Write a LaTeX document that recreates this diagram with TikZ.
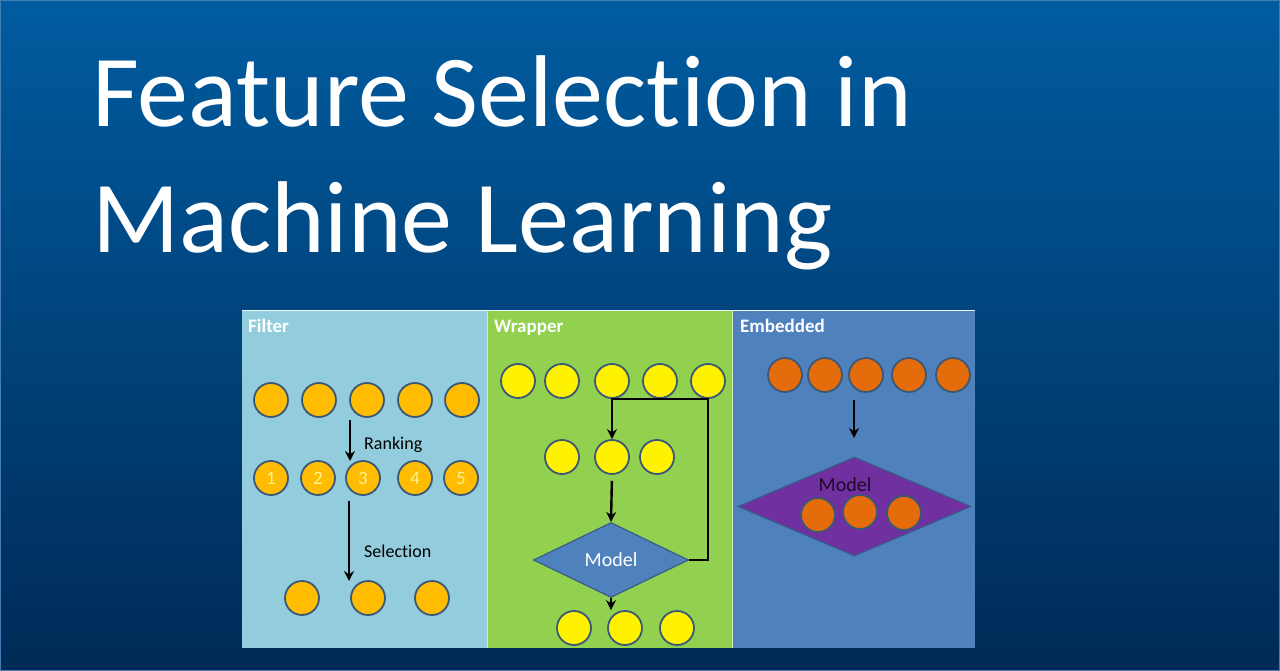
\documentclass[tikz,border=0pt]{standalone}
\usepackage{fontspec}
\setmainfont{Carlito}[Ligatures=NoCommon]
\usetikzlibrary{arrows.meta,shapes.geometric}
\definecolor{bgtop}{RGB}{0,92,160}
\definecolor{bgbot}{RGB}{0,42,86}
\definecolor{frame}{RGB}{70,125,180}
\definecolor{filterbg}{RGB}{147,205,221}
\definecolor{wrapbg}{RGB}{146,208,80}
\definecolor{embbg}{RGB}{79,129,189}
\definecolor{dotline}{RGB}{60,88,118}
\definecolor{fdotfill}{RGB}{255,188,0}
\definecolor{edotfill}{RGB}{228,108,10}
\definecolor{numtext}{RGB}{255,242,150}
\definecolor{modelblue}{RGB}{79,129,189}
\definecolor{modelline}{RGB}{56,93,138}
\definecolor{modelpurple}{RGB}{112,48,160}
\definecolor{darktext}{RGB}{30,10,40}
\begin{document}
\begin{tikzpicture}[x=1pt,y=1pt]
\tikzstyle{every node}+=[inner sep=0pt]
\tikzstyle{title}=[anchor=base west,text=white,font=\fontsize{102}{102}\selectfont]
\tikzstyle{head}=[anchor=base west,text=white,font=\fontsize{19}{19}\selectfont\bfseries]
\tikzstyle{lbl}=[anchor=base west,font=\fontsize{18}{18}\selectfont]
\tikzstyle{dot}=[circle,draw=dotline,line width=1.8pt,minimum size=34pt,font=\fontsize{19}{19}\selectfont]
\tikzstyle{fdot}=[dot,fill=fdotfill,text=numtext]
\tikzstyle{wdot}=[dot,fill=yellow]
\tikzstyle{edot}=[dot,fill=edotfill]
\tikzstyle{model}=[diamond,draw=modelline,line width=1.2pt,font=\fontsize{20}{20}\selectfont]
\tikzstyle{arr}=[black,line width=2.4pt,-{Stealth[length=10pt,width=10pt]}]
\useasboundingbox (0,0) rectangle (1280,-671);
\shade [top color=bgtop,bottom color=bgbot] (0,0) rectangle (1280,-671);
\draw [frame,line width=2pt] (0,0) rectangle (1280,-671);
\node [title] (t1) at (92,-127) {Feature Selection in};
\node [title] (t2) at (92,-252) {Machine Learning};
\fill [filterbg] (242,-310) rectangle (487,-648);
\fill [wrapbg] (487,-310) rectangle (732,-648);
\fill [embbg] (732,-310) rectangle (975,-648);
\draw [white!85!filterbg,line width=1pt] (242,-310) -- (975,-310);
\draw [white!60!wrapbg,line width=1pt] (487,-310) -- (487,-648);
\draw [white!60!wrapbg,line width=1pt] (732,-310) -- (732,-648);
\node [head] (hfilter) at (248,-332) {Filter};
\node [head] (hwrap) at (494,-332) {Wrapper};
\node [head] (hemb) at (740,-332) {Embedded};
\node [fdot] (f1) at (271,-400) {};
\node [fdot] (f2) at (319,-400) {};
\node [fdot] (f3) at (367,-400) {};
\node [fdot] (f4) at (415,-400) {};
\node [fdot] (f5) at (462,-400) {};
\node [fdot] (r1) at (271,-478) {1};
\node [fdot] (r2) at (318,-478) {2};
\node [fdot] (r3) at (363,-478) {3};
\node [fdot] (r4) at (415,-478) {4};
\node [fdot] (r5) at (461,-478) {5};
\node [fdot] (s1) at (302,-598) {};
\node [fdot] (s2) at (368,-598) {};
\node [fdot] (s3) at (432,-598) {};
\coordinate (ra) at (350,-420);
\coordinate (rb) at (350,-461);
\coordinate (sa) at (349,-501);
\coordinate (sb) at (349,-581);
\draw [arr] (ra) -- (rb);
\node [lbl] (lrank) at (364,-449) {Ranking};
\draw [arr] (sa) -- (sb);
\node [lbl] (lsel) at (364,-557) {Selection};
\node [wdot] (w1) at (518,-381) {};
\node [wdot] (w2) at (562,-381) {};
\node [wdot] (w3) at (612,-381) {};
\node [wdot] (w4) at (660,-381) {};
\node [wdot] (w5) at (708,-381) {};
\node [wdot] (wa1) at (562,-457) {};
\node [wdot] (wa2) at (612,-457) {};
\node [wdot] (wa3) at (657,-457) {};
\node [model,fill=modelblue,text=white,minimum width=155pt,minimum height=75pt] (wmodel) at (611,-560) {Model};
\node [wdot] (wo1) at (574,-628) {};
\node [wdot] (wo2) at (625,-628) {};
\node [wdot] (wo3) at (677,-628) {};
\draw [arr] (wmodel.east) -| (w5.south) -| (wa2.north);
\draw [arr,shorten <=6pt] (wa2.south) -- (wmodel.north);
\draw [arr] (wmodel.south) -- (wmodel.south |- wo2.north);
\node [edot] (e1) at (785,-375) {};
\node [edot] (e2) at (825,-375) {};
\node [edot] (e3) at (866,-375) {};
\node [edot] (e4) at (909,-375) {};
\node [edot] (e5) at (953,-375) {};
\coordinate (ea) at (854,-400);
\coordinate (eb) at (854,-438);
\draw [arr] (ea) -- (eb);
\node [model,fill=modelpurple,minimum width=233pt,minimum height=99pt] (emodel) at (854.5,-506.5) {};
\node [text=darktext,font=\fontsize{20}{20}\selectfont] (etext) at (845,-485) {Model};
\node [edot] (ei1) at (818,-515) {};
\node [edot] (ei2) at (860,-512) {};
\node [edot] (ei3) at (904,-513) {};
\end{tikzpicture}
\end{document}
